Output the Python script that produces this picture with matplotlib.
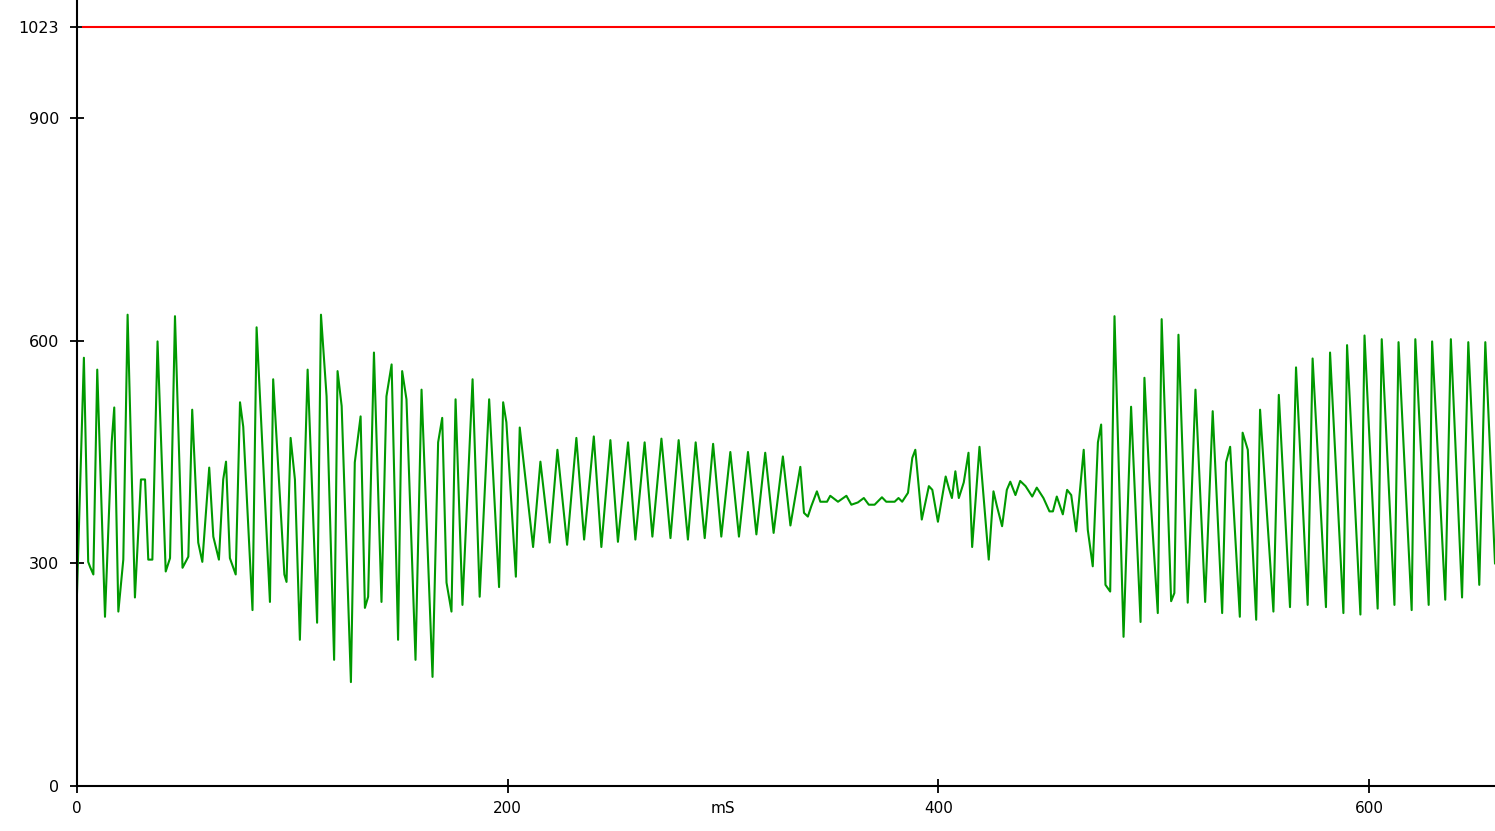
import numpy as np
import matplotlib
matplotlib.use('Agg')
import matplotlib.pyplot as plt

# sample times (mS) and ADC readings
time_ms = [
    0, 3.2, 5.2, 6.1, 7.6, 9.4, 13.0, 16.1, 17.3, 19.2, 21.5, 23.5, 26.9, 29.7, 31.6,
    33.1, 35.0, 37.4, 41.2, 43.2, 45.5, 49.0, 51.7, 53.5, 56.3, 58.2, 61.4, 63.3, 65.9,
    67.9, 69.2, 71.0, 73.7, 75.7, 77.2, 81.5, 83.4, 89.6, 91.1, 96.3, 97.3, 99.2, 101.2,
    103.5, 107.1, 111.5, 113.3, 115.9, 119.4, 121.0, 122.9, 127.2, 129.0, 131.7, 133.7,
    135.2, 137.9, 141.4, 143.7, 146.1, 149.1, 151.0, 153.0, 157.2, 160.0, 165.1, 167.7,
    169.6, 171.6, 173.9, 175.8, 179.0, 183.7, 187.0, 191.4, 196.0, 197.9, 199.4, 203.8,
    205.6, 211.8, 215.2, 219.5, 223.1, 227.6, 231.9, 235.5, 240.0, 243.5, 247.7, 251.2,
    255.9, 259.3, 263.6, 267.2, 271.4, 275.6, 279.4, 283.7, 287.3, 291.5, 295.4, 299.2,
    303.4, 307.4, 311.6, 315.5, 319.6, 323.5, 327.8, 331.3, 335.9, 337.6, 339.4, 341.0,
    343.6, 345.2, 348.3, 349.8, 353.4, 357.3, 359.6, 362.6, 365.4, 367.7, 370.4, 373.8,
    375.8, 379.7, 381.5, 383.2, 385.9, 387.9, 389.3, 392.3, 395.6, 397.2, 399.8, 403.4,
    404.9, 406.3, 407.9, 409.5, 411.8, 414.0, 415.7, 419.1, 423.4, 425.6, 427.2, 429.6,
    431.8, 433.4, 435.8, 438.0, 440.5, 443.6, 445.7, 448.8, 451.6, 453.2, 455.0, 457.8,
    459.8, 461.7, 464.0, 467.5, 469.4, 471.7, 474.1, 475.6, 477.6, 479.8, 481.8, 486.0,
    489.5, 493.9, 495.7, 498.0, 501.9, 503.7, 508.1, 509.6, 511.5, 515.8, 519.4, 523.9,
    527.4, 531.8, 533.6, 535.5, 540.0, 541.3, 543.7, 547.6, 549.4, 555.6, 558.1, 563.3,
    566.1, 571.5, 573.8, 580.0, 581.9, 588.1, 589.8, 596.0, 597.9, 604.0, 605.9, 611.8,
    613.7, 619.8, 621.5, 627.7, 629.3, 635.4, 638.0, 643.2, 646.1, 651.2, 654.0, 658.5,
]
reading = [
    260, 577, 302, 295, 285, 561, 228, 463, 510, 235, 305, 635, 254, 413, 413,
    305, 305, 599, 289, 307, 633, 294, 309, 507, 328, 302, 429, 336, 305,
    413, 437, 307, 285, 517, 484, 237, 618, 248, 548, 285, 275, 469, 413,
    197, 561, 220, 635, 525, 170, 559, 512, 140, 436, 498, 240,
    255, 584, 248, 525, 568, 197, 559, 521, 170, 534, 147, 463,
    496, 274, 235, 521, 244, 548, 255, 521, 268, 517, 490, 282,
    483, 322, 437, 328, 453, 325, 469, 332, 471, 322, 466, 329,
    463, 332, 463, 336, 468, 334, 466, 332, 463, 334, 461, 336,
    450, 336, 450, 339, 449, 341, 444, 351, 430, 368, 363, 377,
    397, 383, 383, 391, 383, 391, 379, 382, 388, 379, 379, 389,
    383, 383, 388, 383, 395, 442, 453, 359, 404, 399, 356, 417,
    401, 388, 424, 388, 409, 449, 322, 457, 305, 397, 377, 350,
    399, 410, 392, 411, 404, 390, 402, 388, 370, 370, 390, 366,
    399, 392, 343, 453, 345, 296, 463, 487, 271, 262, 633, 201,
    511, 221, 550, 413, 233, 629, 249, 260, 608, 247, 534, 248,
    505, 233, 436, 457, 228, 476, 453, 224, 507, 235, 527, 241,
    564, 244, 576, 241, 584, 233, 594, 231, 607, 239, 602, 244,
    598, 237, 602, 244, 599, 251, 602, 254, 598, 271, 598, 300,
]

full_scale = 1023
y_ticks = [0, 300, 600, 900, 1023]
x_ticks = [0, 200, 400, 600]

fig = plt.figure(figsize=(14.95, 8.31), dpi=100)
ax = fig.add_axes([77 / 1495, 45 / 831, 1 - 77 / 1495, 1 - 45 / 831])

ax.axhline(full_scale, xmin=0.004, xmax=1, color='#ff0000', linewidth=1.5)
ax.plot(time_ms, reading, color='#009900', linewidth=1.5)

ax.set_xlim(0, 658.5)
ax.set_ylim(0, 1059)
ax.set_xticks(x_ticks)
ax.set_yticks(y_ticks)
ax.tick_params(axis='both', direction='inout', length=10, width=1.3, pad=8)
ax.tick_params(axis='x', labelsize=11, pad=6)
ax.tick_params(axis='y', labelsize=11.5)

ax.annotate('mS', xy=(300, 0), xycoords=('data', 'axes fraction'),
            xytext=(0, -11), textcoords='offset points', ha='center', va='top', fontsize=11)

for side in ['top', 'right']:
    ax.spines[side].set_visible(False)
for side in ['left', 'bottom']:
    ax.spines[side].set_linewidth(1.5)

fig.savefig('out.png', dpi=100)
